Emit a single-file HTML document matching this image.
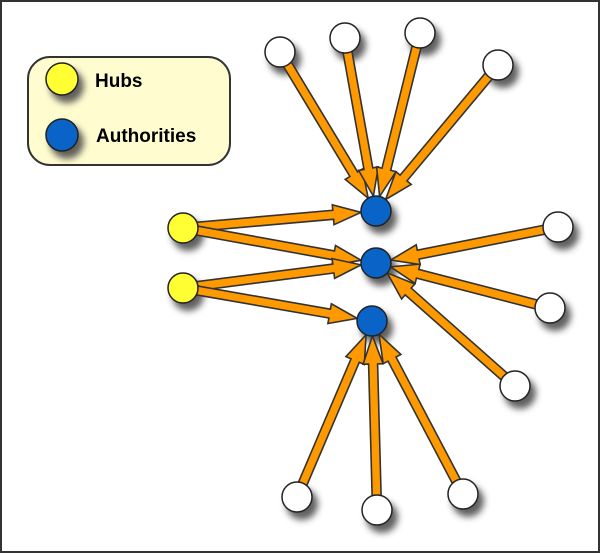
<!DOCTYPE html>
<html><head><style>
html,body{margin:0;padding:0;background:#fff;}
#c{position:absolute;left:0;top:0;width:600px;height:553px;}
</style></head><body>
<svg id="c" width="600" height="553" xmlns="http://www.w3.org/2000/svg">
<defs><filter id="b" x="-1" y="-1" width="3" height="3"><feGaussianBlur stdDeviation="3.5"/></filter></defs>
<rect x="1" y="1" width="598" height="551" fill="#fff" stroke="#333" stroke-width="2"/>
<rect x="28" y="57" width="202" height="108" rx="22" fill="#fffdd0" stroke="#333" stroke-width="2"/>
<g id="shadows"></g>
<g id="arrows"></g>
<g id="nodes"></g>
<text x="95" y="87" font-family="Liberation Sans, sans-serif" font-weight="bold" font-size="19" fill="#000">Hubs</text>
<text x="96" y="142" font-family="Liberation Sans, sans-serif" font-weight="bold" font-size="19" fill="#000">Authorities</text>
</svg>
<script>
var NS="http://www.w3.org/2000/svg";
var Y="#ffff33",B="#0a64c8",W="#ffffff";
var nodes={
 ly:[62,79,16,Y],lb:[62,135,16,B],
 t1:[280,52,15,W],t2:[345,38,15,W],t3:[420,33,15,W],t4:[498,65,15,W],
 a1:[376,211,15,B],a2:[376,263,15,B],a3:[372,321,15,B],
 y1:[183,228,15,Y],y2:[183,288,15,Y],
 r1:[558,227,15,W],r2:[550,308,15,W],r3:[515,386,15,W],
 b1:[297,497,15,W],b2:[377,510,15,W],b3:[463,494,15,W]};
var edges=[["t1","a1"],["t2","a1"],["t3","a1"],["t4","a1"],["y1","a1"],["y1","a2"],["y2","a2"],["y2","a3"],["r1","a2"],["r2","a2"],["r3","a2"],["b1","a3"],["b2","a3"],["b3","a3"]];
function el(n,a,p){var e=document.createElementNS(NS,n);for(var k in a)e.setAttribute(k,a[k]);document.getElementById(p).appendChild(e);}
edges.forEach(function(e){
 var s=nodes[e[0]],t=nodes[e[1]];
 var dx=t[0]-s[0],dy=t[1]-s[1],L=Math.hypot(dx,dy),ux=dx/L,uy=dy/L,nx=-uy,ny=ux;
 var tipd=L-t[2],hl=28,sw=4.5,hw=10;
 function P(d,o){return (s[0]+ux*d+nx*o).toFixed(1)+","+(s[1]+uy*d+ny*o).toFixed(1);}
 var pts=[P(0,sw),P(tipd-hl,sw),P(tipd-hl,hw),P(tipd,0),P(tipd-hl,-hw),P(tipd-hl,-sw),P(0,-sw)].join(" ");
 el("polygon",{points:pts,fill:"#ff9900",stroke:"#333","stroke-width":"1.6","stroke-linejoin":"miter"},"arrows");
});
for(var k in nodes){var n=nodes[k];
 el("circle",{cx:n[0]+5,cy:n[1]+7,r:n[2]+1,fill:"#444",filter:"url(#b)",opacity:"0.85"},"shadows");
 el("circle",{cx:n[0],cy:n[1],r:n[2],fill:n[3],stroke:"#222","stroke-width":"1.5"},"nodes");}
</script>
</body></html>
